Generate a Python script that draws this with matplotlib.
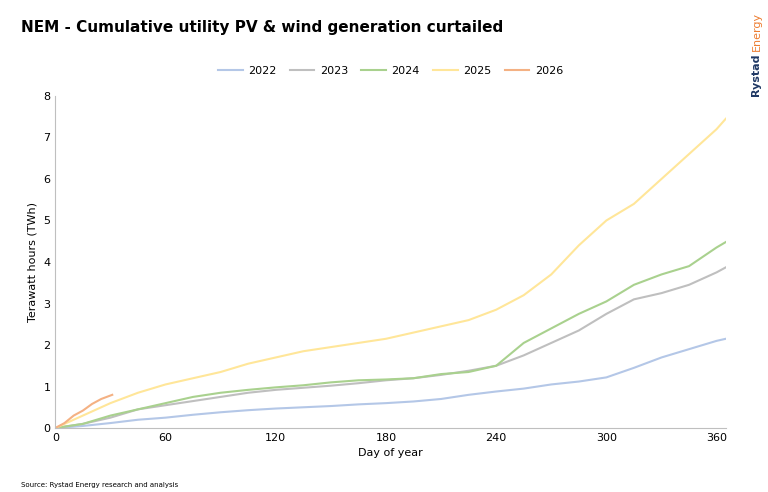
import numpy as np
import matplotlib.pyplot as plt

days = [0, 15, 30, 45, 60, 75, 90, 105, 120, 135, 150, 165, 180, 195, 210,
        225, 240, 255, 270, 285, 300, 315, 330, 345, 360, 365]
y2022 = [0, 0.05, 0.12, 0.2, 0.25, 0.32, 0.38, 0.43, 0.47, 0.5, 0.53, 0.57, 0.6,
         0.64, 0.7, 0.8, 0.88, 0.95, 1.05, 1.12, 1.22, 1.45, 1.7, 1.9, 2.1, 2.15]
y2023 = [0, 0.1, 0.25, 0.45, 0.55, 0.65, 0.75, 0.85, 0.92, 0.97, 1.02, 1.08, 1.15,
         1.2, 1.28, 1.38, 1.5, 1.75, 2.05, 2.35, 2.75, 3.1, 3.25, 3.45, 3.75, 3.87]
y2024 = [0, 0.1, 0.3, 0.45, 0.6, 0.75, 0.85, 0.92, 0.98, 1.03, 1.1, 1.15, 1.17,
         1.2, 1.3, 1.35, 1.5, 2.05, 2.4, 2.75, 3.05, 3.45, 3.7, 3.9, 4.35, 4.48]
y2025 = [0, 0.3, 0.6, 0.85, 1.05, 1.2, 1.35, 1.55, 1.7, 1.85, 1.95, 2.05, 2.15,
         2.3, 2.45, 2.6, 2.85, 3.2, 3.7, 4.4, 5.0, 5.4, 6.0, 6.6, 7.2, 7.45]
days2026 = [0, 5, 10, 15, 20, 25, 31]
y2026 = [0, 0.12, 0.3, 0.42, 0.58, 0.7, 0.8]

fig = plt.figure(figsize=(7.68, 4.92), dpi=100)
ax = fig.add_axes([0.072, 0.13, 0.873, 0.675])

ax.plot(days, y2022, color='#b4c7e7', lw=1.5, label='2022')
ax.plot(days, y2023, color='#bfbfbf', lw=1.5, label='2023')
ax.plot(days, y2024, color='#a9d18e', lw=1.5, label='2024')
ax.plot(days, y2025, color='#ffe699', lw=1.5, label='2025')
ax.plot(days2026, y2026, color='#f4b183', lw=1.5, label='2026')

ax.set_xlim(0, 365)
ax.set_ylim(0, 8)
ax.set_xticks(range(0, 361, 60))
ax.set_yticks(range(0, 9))
ax.tick_params(labelsize=8, length=0)
for s in ['top', 'right']:
    ax.spines[s].set_visible(False)
ax.spines['left'].set_color('#bfbfbf')
ax.spines['bottom'].set_color('#bfbfbf')
ax.set_xlabel('Day of year', fontsize=8)
ax.set_ylabel('Terawatt hours (TWh)', fontsize=8)
ax.legend(loc='lower center', bbox_to_anchor=(0.5, 1.03), ncol=5, frameon=False,
          fontsize=8, handlelength=2.2, columnspacing=1.2, handletextpad=0.5)

fig.text(0.027, 0.935, 'NEM - Cumulative utility PV & wind generation curtailed',
         fontsize=11, fontweight='bold')
fig.text(0.027, 0.01, 'Source: Rystad Energy research and analysis', fontsize=5)
fig.text(0.985, 0.805, 'Rystad', rotation=90, fontsize=8, fontweight='bold',
         color='#1f3864', ha='center', va='bottom')
fig.text(0.985, 0.897, 'Energy', rotation=90, fontsize=8, color='#ed7d31',
         ha='center', va='bottom')

fig.savefig('out.png', dpi=100)
